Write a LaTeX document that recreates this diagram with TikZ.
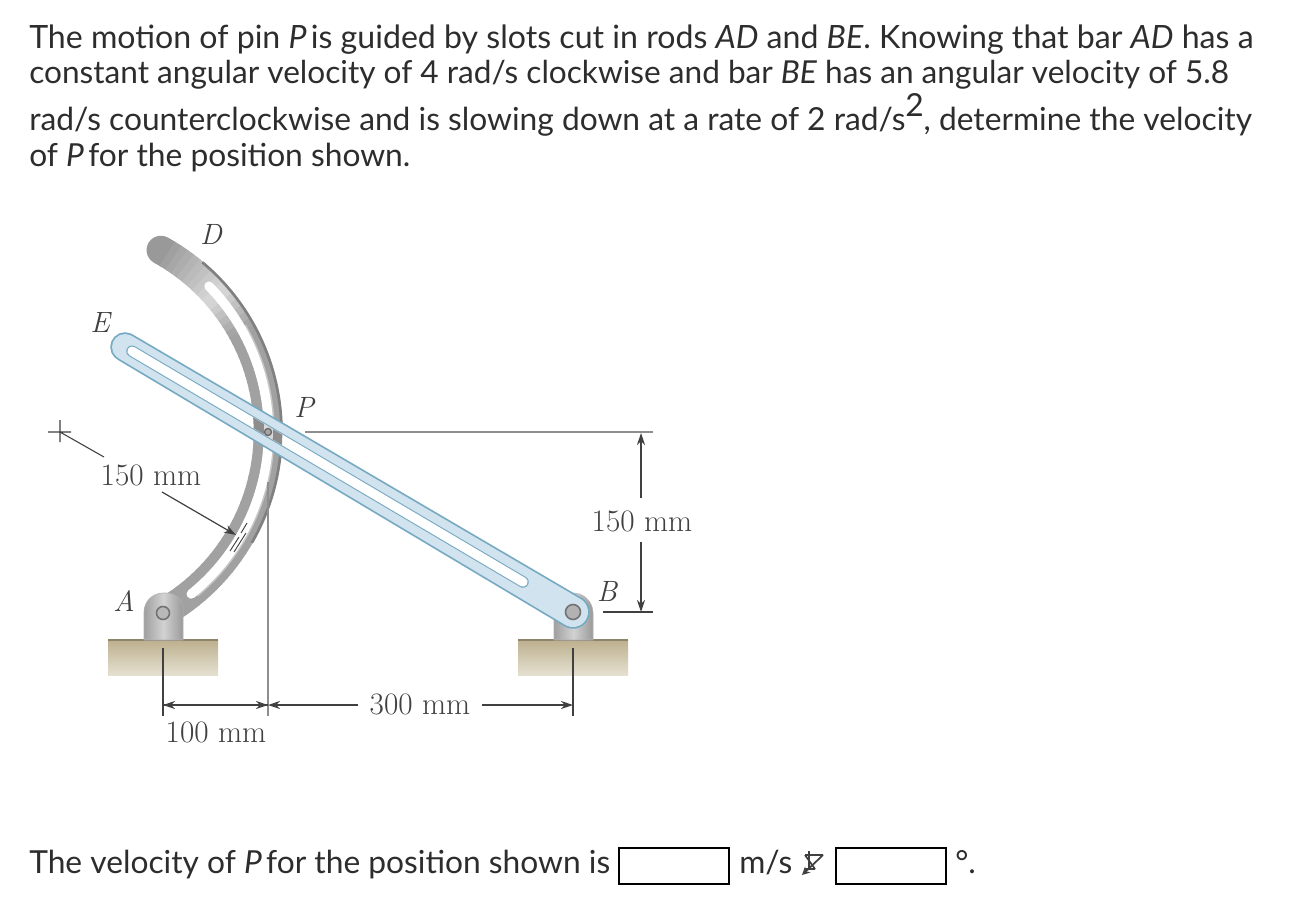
\documentclass[tikz,border=0pt]{standalone}
\usepackage{fontspec}
\setmainfont{Lato}
\newfontfamily\lmr{Latin Modern Roman}
\usetikzlibrary{arrows.meta,calc}
\definecolor{txt}{HTML}{2D2D2D}
\definecolor{bluefill}{HTML}{D0E3EE}
\definecolor{blueedge}{HTML}{76A9C2}
\definecolor{dimgray}{HTML}{404040}
\definecolor{lightline}{HTML}{8E8E8E}
\definecolor{groundtop}{HTML}{BDB08F}
\definecolor{groundbot}{HTML}{E4E0D0}
\tikzset{
 x=0.75pt,y=-0.75pt,
 qtext/.style={anchor=base west,inner sep=0,text=txt,font=\fontsize{23.8}{27}\selectfont},
 dimtext/.style={inner sep=0,text=dimgray,font=\lmr\fontsize{23.4}{26}\selectfont},
 letter/.style={inner sep=0,text=dimgray,font=\lmr\itshape\fontsize{22}{26}\selectfont},
 dimline/.style={draw=dimgray,line width=0.9pt},
 greyline/.style={draw=lightline,line width=1.5pt},
 head/.style={-{Stealth[length=9pt,width=6pt]}},
 ansbox/.style={draw=black,line width=1.3pt,fill=white,minimum width=82pt,minimum height=27pt,inner sep=0},
 groundblock/.style={top color=groundtop,bottom color=groundbot,draw=none},
 clevisblock/.style={left color=gray!75,right color=gray!80,middle color=gray!35,draw=gray!60},
}
\begin{document}
\begin{tikzpicture}
\useasboundingbox (0,0) rectangle (1306,914);
\fill[white] (0,0) rectangle (1306,914);
% question text
\node[qtext,font=\fontsize{24.07}{27}\selectfont] (l1) at (29,48) {The motion of pin \textit{P}\hspace{-.12em} is guided by slots cut in rods \textit{AD} and \textit{BE}. Knowing that bar \textit{AD} has a};
\node[qtext,font=\fontsize{23.7}{27}\selectfont] (l2) at (29,83) {constant angular velocity of 4 rad/s clockwise and bar \textit{BE} has an angular velocity of 5.8};
\node[qtext] (l3) at (29,130) {rad/s counterclockwise and is slowing down at a rate of 2 rad/s\raisebox{.42em}{2}, determine the velocity};
\node[qtext] (l4) at (29,166) {of \textit{P}\hspace{-.12em} for the position shown.};
\node[qtext] (l5) at (29,873) {The velocity of \textit{P}\hspace{-.12em} for the position shown is};
\node[ansbox] (b1) at (674,866) {};
\node[qtext] (u) at (739,873) {m/s};
\node[ansbox] (b2) at (891,866) {};
\node[qtext] (deg) at (955,873) {°.};
% direction icon
\coordinate (ia) at (805,855);\coordinate (ib) at (823,855);\coordinate (ic) at (802,875);
\coordinate (id) at (809,851);\coordinate (ie) at (809,868);\coordinate (ig) at (815,869);\coordinate (ih) at (805,869);
\draw[dimgray,line width=1.3pt] (ia)--(ib) (ia)--(ig) (id)--(ie) (ih)--(ig);
\draw[dimgray,line width=1.3pt,-{Stealth[length=6pt,width=6pt]}] (ib)--(ic);
% key points
\coordinate (C) at (60,432);
\coordinate (A) at (163,613);
\coordinate (B) at (573,612);
\coordinate (E) at (125,347);
\coordinate (Pin) at (268,432);
% ground
\fill[groundblock] (108,640) rectangle (218,675);
\fill[groundblock] (518,640) rectangle (628,675);
\draw[groundtop!75!black,line width=0.9pt] (108,640)--(218,640) (518,640)--(628,640);
% bar AD
\fill[black!40] (C) ++(-61:208) circle[radius=14.3];
\foreach \a in {-61,-59,...,58}{
 \pgfmathsetmacro\p{\a<-42 ? 15+25*(-42-\a)/19 : (\a<-30 ? 15+22*(\a+42)/12 : 37)}
 \draw[black!\p,line width=21.5pt] (C) ++(\a:208) arc[start angle=\a,end angle=\a+2.4,radius=208];
}
\draw[black!50,line width=2pt] (C) ++(-50:221.5) arc[start angle=-50,end angle=30,radius=221.5];
\draw[black!22,line width=1.8pt] (C) ++(-30:213.5) arc[start angle=-30,end angle=50,radius=213.5];
\draw[white,line width=7pt,line cap=round] (C) ++(-44.4:208.5) arc[start angle=-44.4,end angle=51,radius=208.5];
% clevis A
\path[clevisblock] (144,640) -- (144,612) arc[start angle=180,end angle=270,radius=19] -- ++(4,0) arc[start angle=270,end angle=360,radius=16] -- (183,640) -- cycle;
\draw[black!55,line width=1.2pt,fill=black!28] (A) circle[radius=6.5];
% clevis B
\path[clevisblock] (554,640) -- (554,612) arc[start angle=180,end angle=270,radius=19] arc[start angle=270,end angle=360,radius=20] -- (593,640) -- cycle;
% vertical through P
\draw[greyline] (Pin) ++(0,50) coordinate (v1) -- (268,716) coordinate (v2);
% bar BE
\coordinate (e1) at ($(E)+(6.6,-11.2)$);\coordinate (e2) at ($(E)+(-6.6,11.2)$);
\coordinate (b1p) at ($(B)+(7.6,-12.9)$);\coordinate (b2p) at ($(B)+(-7.6,12.9)$);
\draw[blueedge,line width=2.6pt] (E) circle[radius=13] (B) circle[radius=15] (e1)--(b1p) (e2)--(b2p);
\fill[bluefill] (E) circle[radius=13] (B) circle[radius=15] (e1)--(b1p)--(b2p)--(e2)--cycle;
\coordinate (s1) at ($(E)+(7,4.2)$);\coordinate (s2) at (523,582);
\draw[blueedge,line width=8.6pt,line cap=round] (s1)--(s2);
\draw[white,line width=7pt,line cap=round] (s1)--(s2);
\begin{scope}
\clip ($(s1)+(-2.3,3.9)$) -- ($(s2)+(-2.3,3.9)$) -- ($(s2)+(2.3,-3.9)$) -- ($(s1)+(2.3,-3.9)$) -- cycle;
\draw[black!45,line width=21.5pt] (C) ++(-10:208) arc[start angle=-10,end angle=10,radius=208];
\draw[black!15,line width=6.5pt] (C) ++(-10:208.5) arc[start angle=-10,end angle=10,radius=208.5];
\end{scope}
\draw[black!60,line width=1pt,fill=black!35] (Pin) circle[radius=3.5];
\draw[black!55,line width=1.2pt,fill=black!30] (B) circle[radius=7.5];
% slot marks
\draw[dimgray,line width=.7pt] (230,551)--(239,537) (241,533)--(247,523) (234,552)--(246,533);
% dimension lines
\coordinate (cl) at (48,432);\coordinate (cr) at (71,432);\coordinate (ct) at (60,420);\coordinate (cb) at (60,442);
\draw[dimgray,line width=.8pt] (cl)--(cr) (ct)--(cb) (C)--(104,457);
\draw[dimline,head] (162,492) coordinate (ar) -- (236,535) coordinate (ah);
\draw[greyline] (305,432) coordinate (t1) -- (653,432) coordinate (t2);
\draw[dimline,head] (641,498) coordinate (u1) -- (641,433) coordinate (u2);
\draw[dimline,head] (641,542) coordinate (d1) -- (641,612) coordinate (d2);
\draw[dimline] (603,612) coordinate (g1) -- (653,612) coordinate (g2);
\draw[dimline] (163,648) coordinate (a1) -- (163,716) coordinate (a2);
\draw[dimline] (573,648) coordinate (h1) -- (573,716) coordinate (h2);
\coordinate (m1) at (163,705);\coordinate (m2) at (268,705);\coordinate (m3) at (358,705);\coordinate (m4) at (482,705);\coordinate (m5) at (573,705);
\draw[dimline,head] (m2)--(m1);
\draw[dimline,head] (m1)--(m2);
\draw[dimline,head] (m3)--(m2);
\draw[dimline,head] (m4)--(m5);
% labels
\node[dimtext] (t150a) at (151,475) {150 mm};
\node[dimtext] (t150b) at (642,521) {150 mm};
\node[dimtext] (t300) at (420,704) {300 mm};
\node[dimtext] (t100) at (216,732) {100 mm};
\node[letter] (lD) at (211,234) {D};
\node[letter] (lE) at (100,323) {E};
\node[letter] (lP) at (304,407) {P};
\node[letter] (lA) at (124,601) {A};
\node[letter] (lB) at (607,591) {B};
\end{tikzpicture}
\end{document}
